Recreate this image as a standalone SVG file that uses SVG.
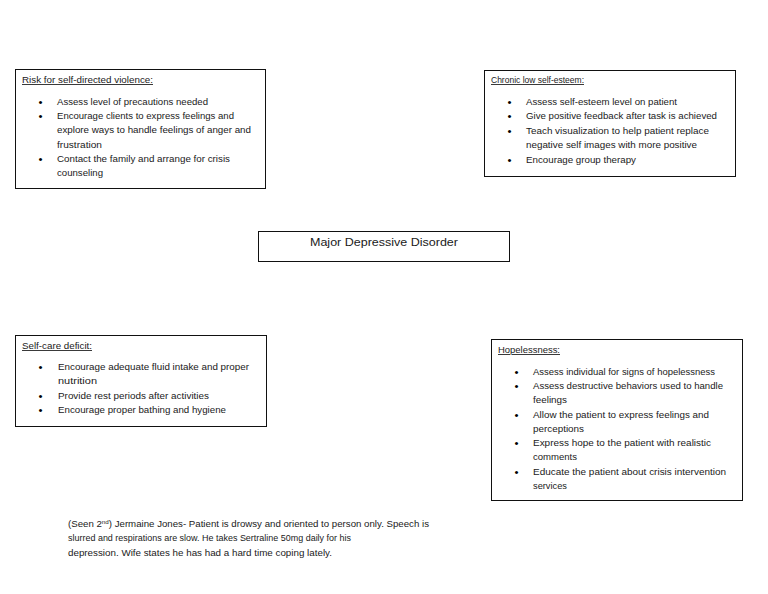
<svg xmlns="http://www.w3.org/2000/svg" width="768" height="594" viewBox="0 0 768 594">
<style>
.box{fill:#fff;stroke:#111;stroke-width:1}
text{font-family:"Liberation Sans",Arial,sans-serif;font-size:8.6px;fill:#1a1a1a}
.t{text-decoration:underline}
.c{font-size:11px}
.b{font-size:11.5px;fill:#000}
</style>
<rect width="768" height="594" fill="#fff"/>
<g id="connectors"/>
<g id="risk-violence">
<rect class="box" x="15.5" y="69.5" width="250" height="119"/>
<text class="t" x="22" y="83" textLength="131" lengthAdjust="spacingAndGlyphs">Risk for self-directed violence:</text>
<text class="b" x="38.5" y="105.5">•</text><text x="57" y="104.5" textLength="151" lengthAdjust="spacingAndGlyphs">Assess level of precautions needed</text>
<text class="b" x="38.5" y="120">•</text><text x="57" y="119" textLength="177" lengthAdjust="spacingAndGlyphs">Encourage clients to express feelings and</text>
<text x="57" y="133" textLength="194" lengthAdjust="spacingAndGlyphs">explore ways to handle feelings of anger and</text>
<text x="57" y="147.5" textLength="45" lengthAdjust="spacingAndGlyphs">frustration</text>
<text class="b" x="38.5" y="163">•</text><text x="57" y="162" textLength="173" lengthAdjust="spacingAndGlyphs">Contact the family and arrange for crisis</text>
<text x="57" y="176" textLength="46" lengthAdjust="spacingAndGlyphs">counseling</text>
</g>
<g id="low-self-esteem">
<rect class="box" x="484.5" y="70.5" width="251" height="106"/>
<text class="t" x="491" y="83" textLength="93" lengthAdjust="spacingAndGlyphs">Chronic low self-esteem:</text>
<text class="b" x="507.5" y="106">•</text><text x="526" y="105" textLength="151" lengthAdjust="spacingAndGlyphs">Assess self-esteem level on patient</text>
<text class="b" x="507.5" y="120">•</text><text x="526" y="119" textLength="191" lengthAdjust="spacingAndGlyphs">Give positive feedback after task is achieved</text>
<text class="b" x="507.5" y="134.5">•</text><text x="526" y="133.5" textLength="183" lengthAdjust="spacingAndGlyphs">Teach visualization to help patient replace</text>
<text x="526" y="148" textLength="171" lengthAdjust="spacingAndGlyphs">negative self images with more positive</text>
<text class="b" x="507.5" y="164">•</text><text x="526" y="163" textLength="110" lengthAdjust="spacingAndGlyphs">Encourage group therapy</text>
</g>
<g id="mdd">
<rect class="box" x="258.5" y="231.5" width="251" height="30"/>
<text class="c" x="310" y="246" textLength="148" lengthAdjust="spacingAndGlyphs">Major Depressive Disorder</text>
</g>
<g id="self-care">
<rect class="box" x="15.5" y="335.5" width="251" height="91"/>
<text class="t" x="22" y="349" textLength="70" lengthAdjust="spacingAndGlyphs">Self-care deficit:</text>
<text class="b" x="38.5" y="371">•</text><text x="58" y="370" textLength="191" lengthAdjust="spacingAndGlyphs">Encourage adequate fluid intake and proper</text>
<text x="58" y="384" textLength="39" lengthAdjust="spacingAndGlyphs">nutrition</text>
<text class="b" x="38.5" y="400">•</text><text x="58" y="399" textLength="151" lengthAdjust="spacingAndGlyphs">Provide rest periods after activities</text>
<text class="b" x="38.5" y="414">•</text><text x="58" y="413" textLength="168" lengthAdjust="spacingAndGlyphs">Encourage proper bathing and hygiene</text>
</g>
<g id="hopelessness">
<rect class="box" x="491.5" y="339.5" width="251" height="161"/>
<text class="t" x="498" y="353" textLength="62" lengthAdjust="spacingAndGlyphs">Hopelessness:</text>
<text class="b" x="514.5" y="375.5">•</text><text x="533" y="374.5" textLength="182" lengthAdjust="spacingAndGlyphs">Assess individual for signs of hopelessness</text>
<text class="b" x="514.5" y="390">•</text><text x="533" y="389" textLength="190" lengthAdjust="spacingAndGlyphs">Assess destructive behaviors used to handle</text>
<text x="533" y="403" textLength="34" lengthAdjust="spacingAndGlyphs">feelings</text>
<text class="b" x="514.5" y="418.5">•</text><text x="533" y="417.5" textLength="176" lengthAdjust="spacingAndGlyphs">Allow the patient to express feelings and</text>
<text x="533" y="432" textLength="51" lengthAdjust="spacingAndGlyphs">perceptions</text>
<text class="b" x="514.5" y="447">•</text><text x="533" y="446" textLength="178" lengthAdjust="spacingAndGlyphs">Express hope to the patient with realistic</text>
<text x="533" y="460" textLength="44" lengthAdjust="spacingAndGlyphs">comments</text>
<text class="b" x="514.5" y="475.5">•</text><text x="533" y="474.5" textLength="193" lengthAdjust="spacingAndGlyphs">Educate the patient about crisis intervention</text>
<text x="533" y="489" textLength="34" lengthAdjust="spacingAndGlyphs">services</text>
</g>
<g id="note">
<text x="68" y="527" textLength="361" lengthAdjust="spacingAndGlyphs">(Seen 2<tspan font-size="5.5px" dy="-3">nd</tspan><tspan dy="3">) Jermaine Jones- Patient is drowsy and oriented to person only. Speech is</tspan></text>
<text x="68" y="541" textLength="283" lengthAdjust="spacingAndGlyphs">slurred and respirations are slow. He takes Sertraline 50mg daily for his</text>
<text x="68" y="556" textLength="264" lengthAdjust="spacingAndGlyphs">depression. Wife states he has had a hard time coping lately.</text>
</g>
</svg>
